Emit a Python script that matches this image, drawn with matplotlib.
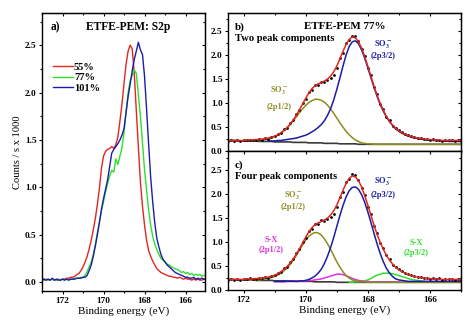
import numpy as np
import matplotlib
matplotlib.use('Agg')
import matplotlib.pyplot as plt
from matplotlib.ticker import MultipleLocator

plt.rcParams['font.family'] = ['Liberation Serif', 'DejaVu Serif']
plt.rcParams['font.weight'] = 'bold'
plt.rcParams['mathtext.fontset'] = 'stix'
plt.rcParams['mathtext.default'] = 'bf'

# --- panel a: S2p spectra, sampled every 0.1 eV from 173.0 down to 165.0 ---
energy_a = np.round(np.arange(173.0, 164.95, -0.1), 1)
series_labels = ['55%', '77%', '101%']
s2p_55 = [0.02, 0.03, 0.02, 0.03, 0.02, 0.03, 0.02, 0.02, 0.03, 0.02,
          0.03, 0.03, 0.04, 0.04, 0.05, 0.05, 0.06, 0.08, 0.09, 0.12,
          0.16, 0.21, 0.27, 0.35, 0.44, 0.55, 0.67, 0.82, 0.99, 1.20,
          1.33, 1.38, 1.40, 1.41, 1.43, 1.41, 1.45, 1.53, 1.70, 1.88,
          2.10, 2.30, 2.44, 2.50, 2.46, 2.20, 1.80, 1.42, 1.05, 0.80,
          0.60, 0.44, 0.33, 0.27, 0.22, 0.18, 0.14, 0.12, 0.10, 0.09,
          0.08, 0.07, 0.06, 0.06, 0.05, 0.05, 0.04, 0.05, 0.04, 0.03,
          0.04, 0.03, 0.03, 0.02, 0.03, 0.02, 0.03, 0.02, 0.02, 0.03,
          0.02]
s2p_77 = [0.03, 0.02, 0.03, 0.02, 0.02, 0.03, 0.02, 0.02, 0.03, 0.02,
          0.03, 0.02, 0.03, 0.02, 0.03, 0.03, 0.04, 0.04, 0.04, 0.05,
          0.05, 0.07, 0.11, 0.16, 0.21, 0.29, 0.39, 0.52, 0.63, 0.75,
          0.85, 0.95, 1.04, 1.12, 1.18, 1.16, 1.30, 1.24, 1.33, 1.42,
          1.58, 1.80, 2.00, 2.13, 2.18, 2.24, 2.20, 1.97, 1.75, 1.47,
          1.18, 0.97, 0.76, 0.60, 0.48, 0.40, 0.34, 0.29, 0.25, 0.23,
          0.21, 0.19, 0.18, 0.16, 0.15, 0.14, 0.13, 0.12, 0.10, 0.11,
          0.09, 0.10, 0.08, 0.09, 0.07, 0.08, 0.07, 0.08, 0.06, 0.07,
          0.07]
s2p_101 = [0.02, 0.03, 0.02, 0.03, 0.02, 0.04, 0.02, 0.03, 0.02, 0.02,
           0.03, 0.02, 0.03, 0.02, 0.03, 0.03, 0.03, 0.04, 0.04, 0.04,
           0.05, 0.05, 0.07, 0.12, 0.18, 0.27, 0.38, 0.50, 0.63, 0.77,
           0.88, 0.98, 1.08, 1.22, 1.36, 1.40, 1.43, 1.46, 1.50, 1.55,
           1.62, 1.79, 1.96, 2.09, 2.23, 2.35, 2.44, 2.53, 2.45, 2.40,
           2.17, 1.82, 1.45, 1.10, 0.84, 0.62, 0.46, 0.37, 0.29, 0.24,
           0.21, 0.18, 0.16, 0.14, 0.12, 0.10, 0.09, 0.08, 0.07, 0.06,
           0.05, 0.05, 0.04, 0.04, 0.05, 0.03, 0.04, 0.03, 0.04, 0.03,
           0.03]

# --- panels b/c: ETFE-PEM 77 %, sampled every 0.1 eV from 172.5 down to 165.0 ---
energy_fit = np.round(np.arange(172.5, 164.95, -0.1), 1)
measured = [0.21, 0.23, 0.20, 0.22, 0.21, 0.23, 0.22, 0.24, 0.22, 0.23,
            0.25, 0.24, 0.27, 0.26, 0.30, 0.31, 0.35, 0.37, 0.45, 0.48,
            0.58, 0.64, 0.77, 0.85, 1.00, 1.08, 1.24, 1.28, 1.38, 1.37,
            1.45, 1.44, 1.49, 1.52, 1.58, 1.74, 1.95, 2.05, 2.25, 2.31,
            2.41, 2.39, 2.30, 2.12, 1.99, 1.74, 1.58, 1.33, 1.18, 0.98,
            0.87, 0.72, 0.65, 0.53, 0.49, 0.43, 0.40, 0.36, 0.34, 0.31,
            0.30, 0.27, 0.28, 0.25, 0.26, 0.23, 0.25, 0.22, 0.24, 0.21,
            0.23, 0.22, 0.23, 0.20, 0.22, 0.21]
envelope = [0.22, 0.22, 0.22, 0.22, 0.22, 0.22, 0.23, 0.23, 0.23, 0.24,
            0.24, 0.25, 0.26, 0.27, 0.29, 0.31, 0.34, 0.38, 0.43, 0.49,
            0.56, 0.65, 0.75, 0.86, 0.98, 1.10, 1.21, 1.30, 1.36, 1.40,
            1.43, 1.46, 1.50, 1.56, 1.65, 1.77, 1.92, 2.08, 2.22, 2.33,
            2.38, 2.36, 2.28, 2.15, 1.97, 1.77, 1.56, 1.35, 1.16, 0.99,
            0.85, 0.72, 0.62, 0.54, 0.47, 0.42, 0.38, 0.35, 0.32, 0.30,
            0.28, 0.27, 0.26, 0.25, 0.24, 0.24, 0.23, 0.23, 0.23, 0.22,
            0.22, 0.22, 0.22, 0.22, 0.22, 0.22]

# panel b: two components + background
background_b = [0.22, 0.22, 0.22, 0.22, 0.21, 0.21, 0.21, 0.21, 0.21, 0.21,
                0.20, 0.20, 0.20, 0.20, 0.20, 0.19, 0.19, 0.19, 0.19, 0.19,
                0.19, 0.18, 0.18, 0.18, 0.18, 0.18, 0.17, 0.17, 0.17, 0.17,
                0.17, 0.16, 0.16, 0.16, 0.16, 0.16, 0.15, 0.15, 0.15, 0.15,
                0.15, 0.15, 0.14, 0.14, 0.14, 0.14, 0.14, 0.14, 0.14, 0.14] + [0.14] * 26
so3_12_b = [0.22, 0.23, 0.24, 0.25, 0.27, 0.30, 0.33, 0.37, 0.42, 0.48,
            0.55, 0.63, 0.71, 0.80, 0.88, 0.95, 1.01, 1.05, 1.08, 1.08,
            1.06, 1.02, 0.96, 0.88, 0.79, 0.69, 0.59, 0.50, 0.41, 0.34,
            0.28, 0.23, 0.20, 0.17, 0.16, 0.15, 0.15, 0.14, 0.14, 0.14] + [0.14] * 26  # from 171.5 eV
so3_32_b = [0.21, 0.21, 0.21, 0.22, 0.22, 0.23, 0.24,
            0.25, 0.26, 0.27, 0.29, 0.31, 0.33, 0.36, 0.40, 0.44, 0.49,
            0.55, 0.63, 0.74, 0.88, 1.06, 1.28, 1.52, 1.77, 2.00, 2.18,
            2.28, 2.30, 2.24, 2.11, 1.94, 1.74, 1.53, 1.33, 1.14, 0.97,
            0.83, 0.71, 0.61, 0.53, 0.46, 0.41, 0.37, 0.34, 0.31, 0.29,
            0.27, 0.26, 0.25, 0.24, 0.23, 0.23, 0.22, 0.22, 0.21, 0.21,
            0.21, 0.20, 0.20, 0.20, 0.20, 0.20]  # from 171.2 eV

# panel c: four components + background
background_c = [0.22, 0.22, 0.22, 0.21, 0.21, 0.21, 0.21, 0.21, 0.21, 0.20,
                0.20, 0.20, 0.20, 0.20, 0.20, 0.19, 0.19, 0.19, 0.19, 0.19,
                0.19, 0.19, 0.18, 0.18, 0.18, 0.18, 0.18, 0.18, 0.17, 0.17,
                0.17, 0.17, 0.17, 0.17, 0.17, 0.16, 0.16, 0.16, 0.16, 0.16] + [0.16] * 36
so3_12_c = [0.21, 0.21, 0.21,
            0.21, 0.22, 0.23, 0.24, 0.26, 0.28, 0.31, 0.35, 0.40, 0.46,
            0.53, 0.62, 0.72, 0.83, 0.94, 1.04, 1.12, 1.17, 1.20, 1.19,
            1.15, 1.07, 0.97, 0.85, 0.72, 0.59, 0.48, 0.38, 0.30, 0.25,
            0.21, 0.19, 0.18, 0.17, 0.17, 0.16, 0.16, 0.16, 0.16, 0.16] + [0.16] * 26  # from 171.8 eV
so3_32_c = [0.18, 0.18, 0.18, 0.18, 0.18,
            0.18, 0.18, 0.18, 0.19, 0.19, 0.20, 0.22, 0.25, 0.29, 0.35,
            0.43, 0.55, 0.70, 0.88, 1.09, 1.32, 1.55, 1.76, 1.94, 2.07,
            2.14, 2.15, 2.10, 1.99, 1.83, 1.63, 1.41, 1.18, 0.96, 0.76,
            0.59, 0.45, 0.35, 0.28, 0.23, 0.21, 0.20, 0.19, 0.18, 0.18] + [0.18] * 16  # from 171.0 eV
sx_12_c = [0.17, 0.17, 0.17, 0.17, 0.18,
           0.18, 0.18, 0.18, 0.18, 0.19, 0.19, 0.20, 0.20, 0.21, 0.22,
           0.23, 0.25, 0.27, 0.29, 0.31, 0.33, 0.33, 0.32, 0.30, 0.27,
           0.24, 0.22, 0.20, 0.19, 0.18, 0.18, 0.17, 0.17, 0.17, 0.17,
           0.17, 0.17, 0.17, 0.17, 0.17, 0.17]  # 171.0 .. 167.0 eV
sx_32_c = [0.16, 0.16, 0.17, 0.17, 0.18, 0.19, 0.21, 0.24, 0.28, 0.31, 0.33,
           0.35, 0.35, 0.35, 0.34, 0.32, 0.30, 0.28, 0.26, 0.24, 0.22,
           0.21, 0.20, 0.19, 0.18, 0.17, 0.17, 0.16, 0.16, 0.16, 0.16, 0.16]  # 168.6 .. 165.5 eV

RED = '#e3261f'
GREEN = '#2ee02e'
BLUE = '#1c1ca8'
OLIVE = '#8c8c1c'
MAGENTA = '#e030e0'
DARK = '#3a3a3a'


def sub(values, start):
    # energies for a component that starts at a given binding energy
    i = int(np.where(energy_fit == start)[0][0])
    return energy_fit[i:i + len(values)]


def style(ax, xlim, ylim, xlabels=True):
    ax.set_xlim(xlim)
    ax.set_ylim(ylim)
    ax.xaxis.set_major_locator(MultipleLocator(2))
    ax.xaxis.set_minor_locator(MultipleLocator(1))
    ax.yaxis.set_major_locator(MultipleLocator(0.5))
    ax.yaxis.set_minor_locator(MultipleLocator(0.25))
    ax.tick_params(which='both', direction='out', labelsize=6.7, width=0.8,
                   labelbottom=xlabels, pad=1.5)
    ax.tick_params(which='major', length=2.5)
    ax.tick_params(which='minor', length=1.5)
    for s in ax.spines.values():
        s.set_linewidth(1.0)
    # mirrored inward ticks on top and right
    top = ax.secondary_xaxis('top')
    top.xaxis.set_major_locator(MultipleLocator(2))
    top.xaxis.set_minor_locator(MultipleLocator(1))
    top.tick_params(which='both', direction='in', labeltop=False, width=0.8)
    top.tick_params(which='major', length=2.5)
    top.tick_params(which='minor', length=1.5)
    right = ax.secondary_yaxis('right')
    right.yaxis.set_major_locator(MultipleLocator(0.5))
    right.yaxis.set_minor_locator(MultipleLocator(0.25))
    right.tick_params(which='both', direction='in', labelright=False, width=0.8)
    right.tick_params(which='major', length=2.5)
    right.tick_params(which='minor', length=1.5)


fig = plt.figure(figsize=(4.74, 3.22), dpi=100)
ax_a = fig.add_axes([0.0886, 0.0963, 0.344, 0.8634])
ax_b = fig.add_axes([0.481, 0.531, 0.4916, 0.4286])
ax_c = fig.add_axes([0.481, 0.0994, 0.4916, 0.4317])

# panel a
for vals, col, lab in zip([s2p_55, s2p_77, s2p_101], [RED, GREEN, BLUE], series_labels):
    ax_a.plot(energy_a, vals, color=col, lw=1.0, label=lab)
style(ax_a, (173.0, 165.05), (-0.095, 2.84))
ax_a.legend(loc='upper left', bbox_to_anchor=(0.03, 0.845), frameon=False, fontsize=7.5,
            handlelength=1.9, handletextpad=0.1, labelspacing=0.12, borderpad=0.1)
ax_a.text(0.05, 0.95, 'a)', transform=ax_a.transAxes, fontsize=8.3, va='center')
ax_a.text(0.53, 0.95, 'ETFE-PEM: S2p', transform=ax_a.transAxes, fontsize=8.3,
          ha='center', va='center')
ax_a.set_ylabel('Counts / s x 1000', fontsize=7.6, labelpad=2)
ax_a.set_xlabel('Binding energy (eV)', fontsize=7.9, labelpad=1)

# panel b
ax_b.plot(energy_fit, background_b, color=DARK, lw=1.2)
ax_b.plot(sub(so3_12_b, 171.5), so3_12_b, color=OLIVE, lw=1.1)
ax_b.plot(sub(so3_32_b, 171.2), so3_32_b, color=BLUE, lw=1.1)
ax_b.plot(energy_fit, measured, 'o', color='black', ms=2.0, mew=0)
ax_b.plot(energy_fit, envelope, color=RED, lw=1.1)
style(ax_b, (172.5, 165.0), (0.0, 2.88), xlabels=False)
ax_b.text(0.03, 0.90, 'b)', transform=ax_b.transAxes, fontsize=7.9, va='center')
ax_b.text(0.50, 0.90, 'ETFE-PEM 77%', transform=ax_b.transAxes, fontsize=7.9,
          ha='center', va='center')
ax_b.text(0.03, 0.815, 'Two peak components', transform=ax_b.transAxes, fontsize=7.6,
          va='center')
ax_b.text(170.85, 1.25, 'SO$_3^-$', color=OLIVE, fontsize=6, ha='center', va='center')
ax_b.text(170.85, 0.92, '(2p1/2)', color=OLIVE, fontsize=6, ha='center', va='center')
ax_b.text(167.5, 2.22, 'SO$_3^-$', color=BLUE, fontsize=6, ha='center', va='center')
ax_b.text(167.5, 1.98, '(2p3/2)', color=BLUE, fontsize=6, ha='center', va='center')

# panel c
ax_c.plot(energy_fit, background_c, color=DARK, lw=1.2)
ax_c.plot(sub(sx_32_c, 168.6), sx_32_c, color=GREEN, lw=1.1)
ax_c.plot(sub(sx_12_c, 171.0), sx_12_c, color=MAGENTA, lw=1.1)
ax_c.plot(sub(so3_12_c, 171.8), so3_12_c, color=OLIVE, lw=1.1)
ax_c.plot(sub(so3_32_c, 171.0), so3_32_c, color=BLUE, lw=1.1)
ax_c.plot(energy_fit, measured, 'o', color='black', ms=2.0, mew=0)
ax_c.plot(energy_fit, envelope, color=RED, lw=1.1)
style(ax_c, (172.5, 165.0), (0.0, 2.9))
ax_c.text(0.03, 0.90, 'c)', transform=ax_c.transAxes, fontsize=7.9, va='center')
ax_c.text(0.03, 0.82, 'Four peak components', transform=ax_c.transAxes, fontsize=7.6,
          va='center')
ax_c.text(170.4, 1.96, 'SO$_3^-$', color=OLIVE, fontsize=6, ha='center', va='center')
ax_c.text(170.4, 1.73, '(2p1/2)', color=OLIVE, fontsize=6, ha='center', va='center')
ax_c.text(167.5, 2.25, 'SO$_3^-$', color=BLUE, fontsize=6, ha='center', va='center')
ax_c.text(167.5, 1.98, '(2p3/2)', color=BLUE, fontsize=6, ha='center', va='center')
ax_c.text(171.1, 1.04, 'S-X', color=MAGENTA, fontsize=6, ha='center', va='center')
ax_c.text(171.1, 0.83, '(2p1/2)', color=MAGENTA, fontsize=6, ha='center', va='center')
ax_c.text(166.45, 0.98, 'S-X', color=GREEN, fontsize=6, ha='center', va='center')
ax_c.text(166.45, 0.77, '(2p3/2)', color=GREEN, fontsize=6, ha='center', va='center')
ax_c.set_xlabel('Binding energy (eV)', fontsize=7.9, labelpad=1)

# make tick labels bold like the rest of the text
fig.canvas.draw()
for ax in (ax_a, ax_b, ax_c):
    for lab in ax.get_xticklabels() + ax.get_yticklabels():
        lab.set_fontweight('bold')

fig.savefig('out.png', dpi=100)
